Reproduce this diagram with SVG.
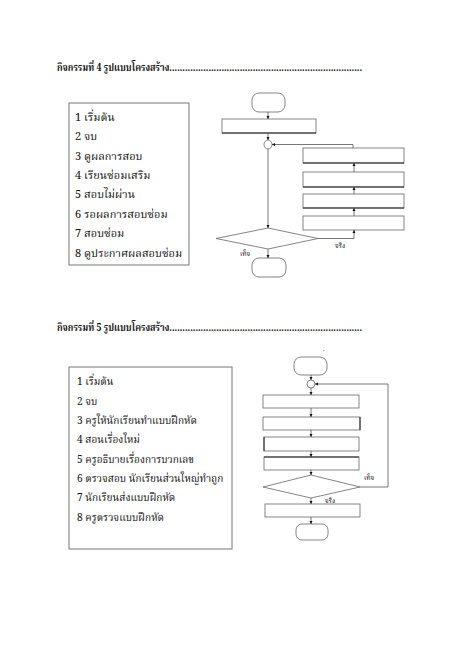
<svg xmlns="http://www.w3.org/2000/svg" width="474" height="670" viewBox="0 0 474 670">
<style>
.t{font-family:"Noto Serif Thai","Noto Sans Thai","Tlwg Typo","Norasi","Garuda","Loma","Liberation Serif",serif;fill:#111}
.title{font-size:10.5px;font-weight:bold}
.item{font-size:11px}
.lbl{font-size:6.5px}
.box{fill:#fff;stroke:#777;stroke-width:1}
.shp{fill:#fff;stroke:#666;stroke-width:0.8}
.bot{stroke:#222;stroke-width:1}
.ln{fill:none;stroke:#555;stroke-width:0.8}
</style>
<defs>
<marker id="ah" viewBox="0 0 6 6" refX="6" refY="3" markerWidth="4" markerHeight="4" orient="auto">
<path d="M0,0 L6,3 L0,6 z" fill="#111"/>
</marker>
</defs>
<rect width="474" height="670" fill="#fff"/>

<text class="t title" x="57" y="71" textLength="305" lengthAdjust="spacingAndGlyphs">กิจกรรมที่ 4 รูปแบบโครงสร้าง..........................................................................</text>

<g id="list1">
<rect class="box" x="69" y="103" width="120" height="162"/>
<text class="t item" x="75" y="121">1 เริ่มต้น</text>
<text class="t item" x="75" y="140">2 จบ</text>
<text class="t item" x="75" y="160">3 ดูผลการสอบ</text>
<text class="t item" x="75" y="179">4  เรียนซ่อมเสริม</text>
<text class="t item" x="75" y="198">5  สอบไม่ผ่าน</text>
<text class="t item" x="75" y="218">6 รอผลการสอบซ่อม</text>
<text class="t item" x="75" y="237">7 สอบซ่อม</text>
<text class="t item" x="75" y="257">8 ดูประกาศผลสอบซ่อม</text>
</g>

<g id="f1-start"><rect class="shp" x="252" y="93" width="33" height="19" rx="7"/></g>
<g id="f1-rect1"><rect class="shp" x="222" y="119" width="94" height="14"/><line class="bot" x1="222" y1="133" x2="316" y2="133"/></g>
<g id="f1-join"><ellipse class="shp" cx="268" cy="144.5" rx="4" ry="4.5"/></g>
<g id="f1-rA"><rect class="shp" x="303" y="148" width="101" height="15"/><line class="bot" x1="303" y1="163" x2="404" y2="163"/></g>
<g id="f1-rB"><rect class="shp" x="303" y="172" width="101" height="15"/><line class="bot" x1="303" y1="187" x2="404" y2="187"/></g>
<g id="f1-rC"><rect class="shp" x="303" y="194" width="101" height="14"/><line class="bot" x1="303" y1="208" x2="404" y2="208"/></g>
<g id="f1-rD"><rect class="shp" x="303" y="216" width="101" height="14"/></g>
<g id="f1-dec"><polygon class="shp" points="268,228 318,238.5 268,249 216,238.5"/></g>
<g id="f1-end"><rect class="shp" x="252" y="258" width="34" height="19" rx="7"/></g>

<g id="connectors1">
<line class="ln" x1="268" y1="112" x2="268" y2="119" marker-end="url(#ah)"/>
<line class="ln" x1="268" y1="133" x2="268" y2="140" marker-end="url(#ah)"/>
<line class="ln" x1="268" y1="149" x2="268" y2="228" marker-end="url(#ah)"/>
<polyline class="ln" points="353,148 353,144.5 272,144.5" marker-end="url(#ah)"/>
<polyline class="ln" points="318,238.5 354,238.5 354,230" marker-end="url(#ah)"/>
<line class="ln" x1="354" y1="216" x2="354" y2="208" marker-end="url(#ah)"/>
<line class="ln" x1="354" y1="194" x2="354" y2="187" marker-end="url(#ah)"/>
<line class="ln" x1="354" y1="172" x2="354" y2="163" marker-end="url(#ah)"/>
<line class="ln" x1="268" y1="249" x2="268" y2="258" marker-end="url(#ah)"/>
</g>
<text class="t lbl" x="335" y="248">จริง</text>
<text class="t lbl" x="240" y="256">เท็จ</text>

<text class="t title" x="57" y="331" textLength="305" lengthAdjust="spacingAndGlyphs">กิจกรรมที่ 5 รูปแบบโครงสร้าง..........................................................................</text>

<g id="list2">
<rect class="box" x="69" y="367" width="163" height="182"/>
<g transform="translate(77,0) scale(0.92,1) translate(-77,0)">
<text class="t item" x="77" y="385">1 เริ่มต้น</text>
<text class="t item" x="77" y="405">2 จบ</text>
<text class="t item" x="77" y="424">3 ครูให้นักเรียนทำแบบฝึกหัด</text>
<text class="t item" x="77" y="443">4 สอนเรื่องใหม่</text>
<text class="t item" x="77" y="463">5 ครูอธิบายเรื่องการบวกเลข</text>
<text class="t item" x="77" y="482">6 ตรวจสอบ  นักเรียนส่วนใหญ่ทำถูก</text>
<text class="t item" x="77" y="501">7 นักเรียนส่งแบบฝึกหัด</text>
<text class="t item" x="77" y="521">8 ครูตรวจแบบฝึกหัด</text>
</g>
</g>

<g id="f2-start"><rect class="shp" x="294" y="357" width="33" height="18" rx="7"/><text class="t" x="323" y="354" font-size="6">'</text></g>
<g id="f2-join"><ellipse class="shp" cx="311" cy="384" rx="4" ry="4"/></g>
<g id="f2-r1"><rect class="shp" x="263" y="395" width="96" height="13"/></g>
<g id="f2-r2"><rect class="shp" x="263" y="417" width="97" height="13"/><line class="bot" x1="360" y1="417" x2="360" y2="430"/></g>
<g id="f2-r3"><rect class="shp" x="264" y="437" width="95" height="14"/><line class="bot" x1="264" y1="437" x2="264" y2="451"/></g>
<g id="f2-r4"><rect class="shp" x="264" y="457" width="95" height="13"/><line class="bot" x1="264" y1="457" x2="359" y2="457"/></g>
<g id="f2-dec"><polygon class="shp" points="311,475 360,487 311,498 263,487"/></g>
<g id="f2-r5"><rect class="shp" x="265" y="504" width="95" height="13"/></g>
<g id="f2-end"><rect class="shp" x="296" y="524" width="32" height="16" rx="6"/></g>

<g id="connectors2">
<line class="ln" x1="311" y1="375" x2="311" y2="380" marker-end="url(#ah)"/>
<line class="ln" x1="311" y1="388" x2="311" y2="395" marker-end="url(#ah)"/>
<line class="ln" x1="311" y1="408" x2="311" y2="417" marker-end="url(#ah)"/>
<line class="ln" x1="311" y1="430" x2="311" y2="437" marker-end="url(#ah)"/>
<line class="ln" x1="311" y1="451" x2="311" y2="457" marker-end="url(#ah)"/>
<line class="ln" x1="311" y1="470" x2="311" y2="475" marker-end="url(#ah)"/>
<polyline class="ln" points="360,487 388,487 388,384 315,384" marker-end="url(#ah)"/>
<line class="ln" x1="311" y1="498" x2="311" y2="504" marker-end="url(#ah)"/>
<line class="ln" x1="311" y1="517" x2="311" y2="524" marker-end="url(#ah)"/>
</g>
<text class="t lbl" x="364" y="480">เท็จ</text>
<text class="t lbl" x="325" y="503">จริง</text>
</svg>
